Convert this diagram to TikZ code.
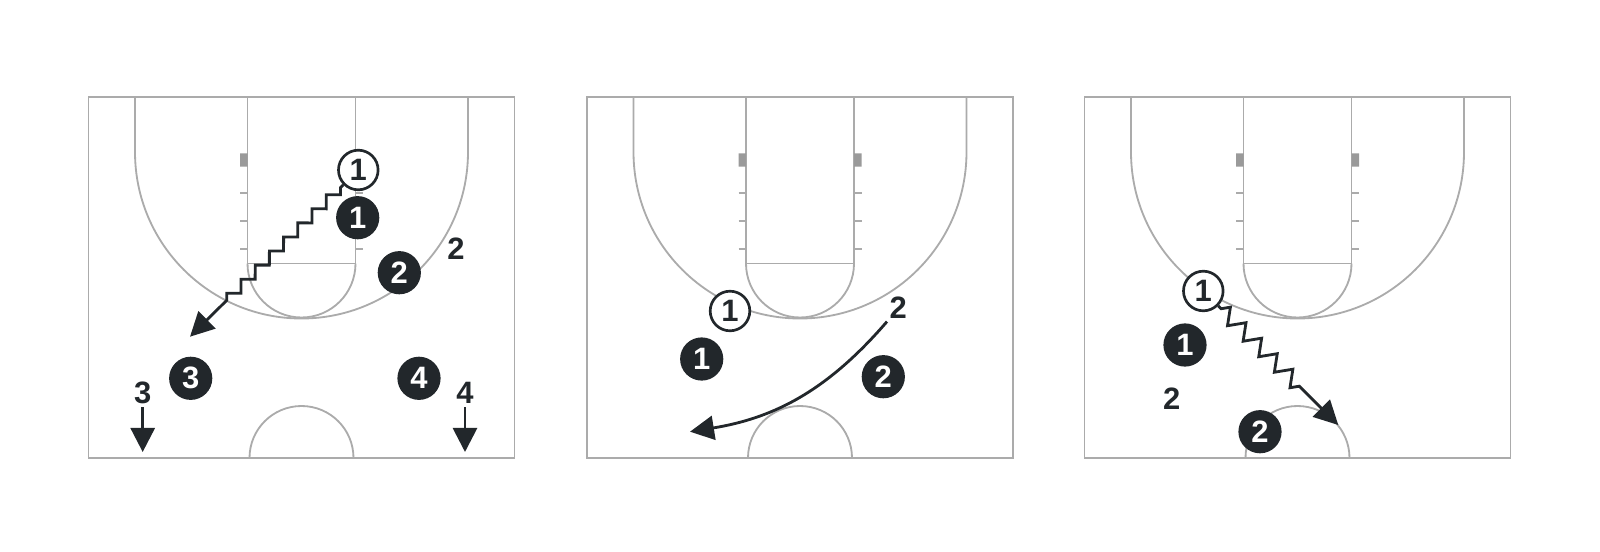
\documentclass[tikz,border=0pt]{standalone}
\usepackage{fontspec}
\setmainfont{Liberation Sans}
\usepackage{tikz}
\usetikzlibrary{arrows.meta,decorations.pathmorphing}
\definecolor{dark}{HTML}{22272B}
\definecolor{courtgray}{HTML}{ABABAB}
\newcommand{\playfont}{\fontsize{22}{22}\selectfont\bfseries}
\tikzstyle{court} = [draw=courtgray, line width=1.3pt]
\tikzstyle{block} = [fill=courtgray!90!black]
\tikzstyle{off} = [circle, fill=dark, text=white, minimum size=1.08cm,
    inner sep=0pt, font=\playfont]
\tikzstyle{ball} = [circle, draw=dark, fill=white, text=dark, line width=1.9pt,
    minimum size=0.99cm, inner sep=0pt, font=\playfont]
\tikzstyle{lbl} = [text=dark, font=\playfont, inner sep=2pt]
\tikzstyle{line} = [draw=dark, line width=2pt, -{Triangle[length=0.6cm,width=0.6cm]}]
\tikzstyle{dribble} = [line, decorate, decoration={zigzag, segment length=0.5cm,
    amplitude=0.125cm, pre length=0.1cm, post length=1.2cm}]

\begin{document}
\begin{tikzpicture}[x=0.025cm, y=-0.025cm]
  \useasboundingbox (0,0) rectangle (1600,552);
  % three half courts
  \foreach \cx in {88.5,587,1084.5} {
    \begin{scope}[shift={(\cx,97)}, court]
      \draw (0,0) rectangle (426,361);
      \draw (46.5,0) -- (46.5,55) arc[start angle=180, end angle=0, radius=166.5] -- (379.5,0);
      \draw (159,0) -- (159,166.5) -- (267,166.5) -- (267,0);
      \draw (159,166.5) arc[start angle=180, end angle=0, radius=54];
      \draw (161,361) arc[start angle=180, end angle=360, radius=52];
      \foreach \hy in {95.7,123.7,151.7}
        \draw (151.5,\hy) -- (159,\hy) (267,\hy) -- (274.5,\hy);
      \fill[block] (151.5,56.3) rectangle (159,69.7) (267,56.3) rectangle (274.5,69.7);
    \end{scope}
  }

  % court 1
  \node[ball] (o1a) at (358.3,170) {1};
  \node[off] (d1a) at (357.7,217.7) {1};
  \node[off] (d2a) at (399.3,272.7) {2};
  \node[lbl] (t2a) at (456,248.3) {2};
  \node[off] (d3a) at (190.7,378.3) {3};
  \node[off] (d4a) at (419,378.3) {4};
  \node[lbl] (t3a) at (142.7,393.3) {3};
  \node[lbl] (t4a) at (465,393.3) {4};
  \coordinate (e1a) at (190,336.7);
  \coordinate (e3a) at (142.7,452);
  \coordinate (e4a) at (465,452);
  \draw[dribble] (o1a) -- (e1a);
  \path[line] (t3a) -- (e3a);
  \path[line] (t4a) -- (e4a);

  % court 2
  \node[ball] (o1b) at (730,311) {1};
  \node[off] (d1b) at (701.7,359) {1};
  \node[off] (d2b) at (883.3,376.7) {2};
  \node[lbl] (t2b) at (898.3,307.7) {2};
  \coordinate (e2b) at (690,431.7);
  \path[line] (t2b) to[bend left=20] (e2b);

  % court 3
  \node[ball] (o1c) at (1203.3,291) {1};
  \node[off] (d1c) at (1185,345) {1};
  \node[lbl] (t2c) at (1171.7,398.3) {2};
  \node[off] (d2c) at (1260,431.7) {2};
  \coordinate (e1c) at (1338.3,425);
  \draw[dribble, decoration={segment length=0.55cm, amplitude=0.19cm}] (o1c) -- (e1c);
\end{tikzpicture}
\end{document}
